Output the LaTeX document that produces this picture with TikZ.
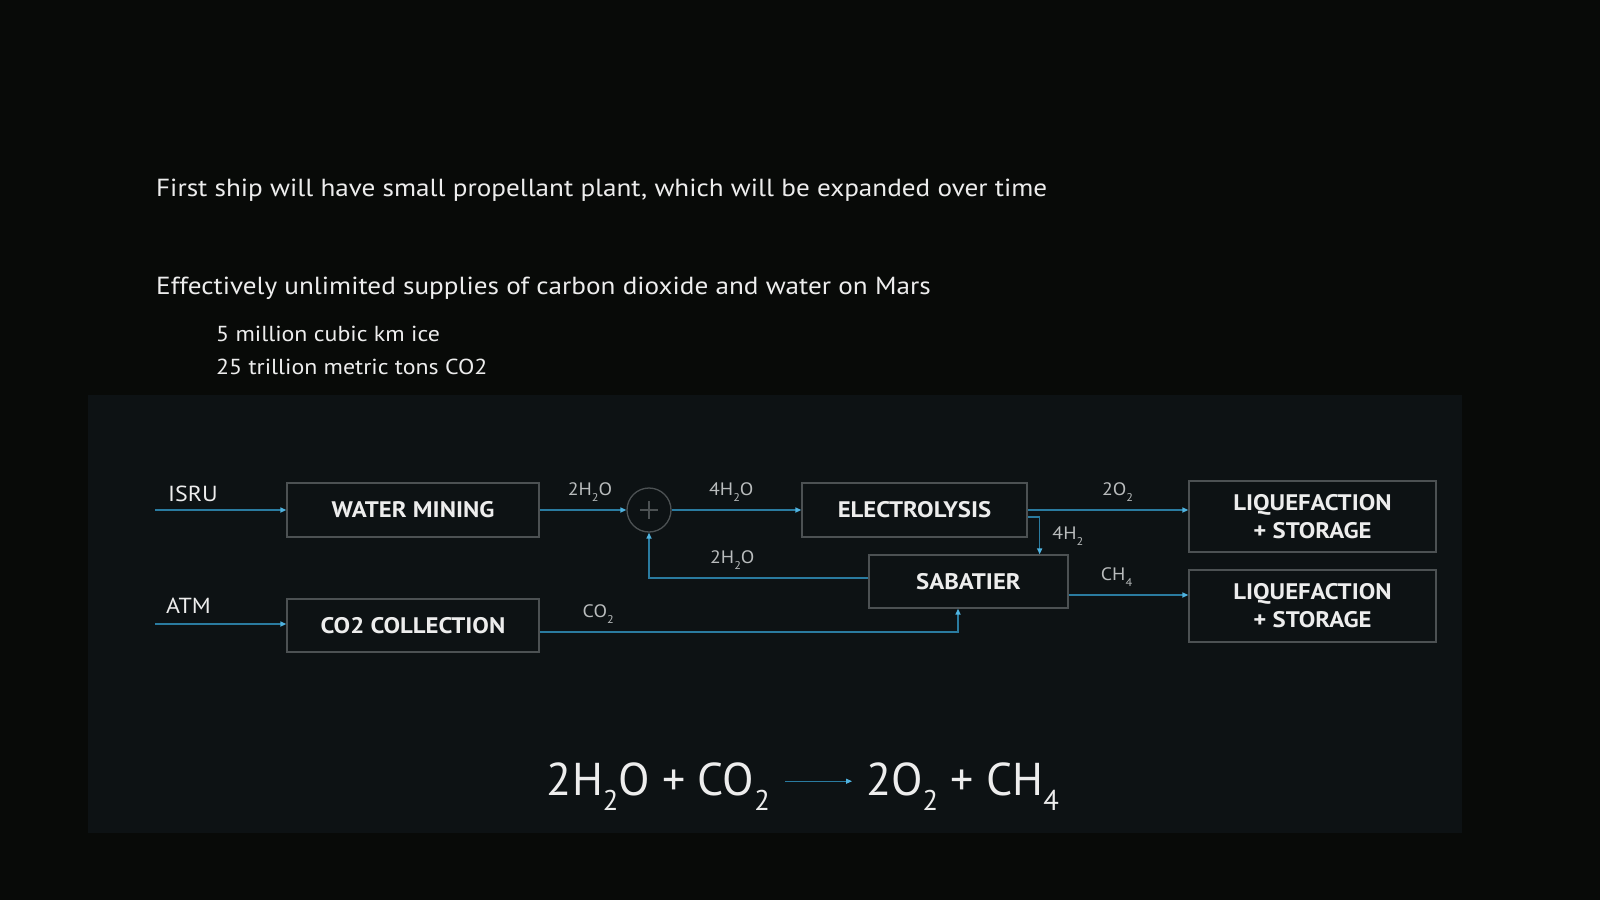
\documentclass[tikz,border=0pt]{standalone}
\usepackage{fontspec}
\setmainfont{PT Sans}[FakeStretch=1.1]
\newfontfamily\eqfont{PT Sans}
\usepackage{graphicx}
\usetikzlibrary{arrows.meta,calc,positioning}
\definecolor{bgblack}{HTML}{080A08}
\definecolor{panelgrey}{HTML}{0D1214}
\definecolor{flowblue}{HTML}{2A7BA0}
\definecolor{tipblue}{HTML}{4FB3E0}
\definecolor{boxgrey}{HTML}{4C5153}
\definecolor{textwhite}{HTML}{EDEDED}
\definecolor{labgrey}{HTML}{B9BCBD}
\newcommand{\chemsub}[1]{\raisebox{-0.33em}{\scalebox{0.62}{#1}}}
\tikzset{
	flow/.style={draw=flowblue, line width=1.6pt, -{Triangle[length=6pt,width=5pt,color=tipblue]}},
}

\begin{document}
\begin{tikzpicture}[
	x=1pt, y=-1pt,
	unit/.style={draw=boxgrey, line width=1.3pt, inner sep=0pt, align=center, text=textwhite, font=\bfseries\fontsize{22.5}{28}\selectfont},
	chem/.style={text=labgrey, inner sep=3pt, yshift=5pt, font=\fontsize{18}{20}\selectfont},
	src/.style={text=textwhite, inner sep=0pt, anchor=west, font=\fontsize{21.8}{24}\selectfont},
	line/.style={text=textwhite, inner sep=0pt, anchor=west},
	]
	
	%background and panel
	\fill[bgblack] (0,0) rectangle (1600,900);
	\useasboundingbox (0,0) rectangle (1600,900);
	\fill[panelgrey] (88,395) rectangle (1462,833);
	
	%bullet text
	\node[line, font=\fontsize{24.7}{28}\selectfont] (headline) at (156,190) {First ship will have small propellant plant, which will be expanded over time};
	\node[line, font=\fontsize{24.7}{28}\selectfont] (claim) at (156,288) {Effectively unlimited supplies of carbon dioxide and water on Mars};
	\node[line, font=\fontsize{21.7}{24}\selectfont] (factice) at (216,334) {5 million cubic km ice};
	\node[line, font=\fontsize{21.7}{24}\selectfont] (factco) at (216,367) {25 trillion metric tons CO2};
	
	%units
	\node[unit, minimum width=252pt, minimum height=54pt] (wm) at (413,510) {WATER MINING};
	\node[unit, minimum width=252pt, minimum height=53pt] (cc) at (413,625.5) {CO2 COLLECTION};
	\node[circle, draw=boxgrey, line width=1.3pt, minimum size=44pt, inner sep=0pt] (mix) at (649,510) {};
	\draw[boxgrey, line width=1.2pt] (mix.center) ++(-9,0) -- ++(18,0) (mix.center) ++(0,-9) -- ++(0,18);
	\node[unit, minimum width=225pt, minimum height=54pt] (el) at (914.5,510) {ELECTROLYSIS};
	\node[unit, minimum width=199pt, minimum height=53pt] (sab) at (968.5,581.5) {SABATIER};
	\node[unit, minimum width=247pt, minimum height=71pt] (lq1) at (1312.5,516.5) {LIQUEFACTION\\+ STORAGE};
	\node[unit, minimum width=247pt, minimum height=72pt] (lq2) at (1312.5,606) {LIQUEFACTION\\+ STORAGE};
	
	%sources
	\coordinate (isru) at (155,510);
	\coordinate (atm) at (155,624);
	\coordinate (chout) at ($(sab.east)+(0,13.5)$);
	\node[src] (isrulab) at (168,494) {ISRU};
	\node[src] (atmlab) at (166,606) {ATM};
	
	%straight paths
	\path (isru) edge[flow] (wm.west);
	\path (atm) edge[flow] (atm -| cc.west);
	\path (wm.east) edge[flow] node[chem, above, pos=0.58] {2H\chemsub{2}O} (mix.west);
	\path (mix.east) edge[flow] node[chem, above, pos=0.46] {4H\chemsub{2}O} (el.west);
	\path (el.east) edge[flow] node[chem, above, pos=0.56] {2O\chemsub{2}} (el.east -| lq1.west);
	\path (chout) edge[flow] node[chem, above, pos=0.4] {CH\chemsub{4}} (chout -| lq2.west);
	
	%bent paths
	\draw[flow] ($(el.east)+(0,7)$) -| ($(sab.north east)+(-29,0)$) node[chem, right, pos=0.75, xshift=9pt, yshift=-5pt] {4H\chemsub{2}};
	\draw[flow] ($(sab.west)+(0,-3.5)$) -| (mix.south) node[chem, above, pos=0.31] {2H\chemsub{2}O};
	\draw[flow] ($(cc.east)+(0,6.5)$) -| ($(sab.south)+(-10.5,0)$) node[chem, above, pos=0.07] {CO\chemsub{2}};
	
	%reaction
	\node[inner sep=0pt, anchor=base east, text=textwhite, font=\eqfont\fontsize{46}{54}\selectfont] (eqleft) at (770,795) {2H\chemsub{2}O + CO\chemsub{2}};
	\node[inner sep=0pt, anchor=base west, text=textwhite, font=\eqfont\fontsize{46}{54}\selectfont] (eqright) at (866,795) {2O\chemsub{2} + CH\chemsub{4}};
	\draw[flow, line width=1pt] ($(eqleft.east)+(15,-5)$) -- ($(eqright.west)+(-14,-5)$);

\end{tikzpicture}
\end{document}
